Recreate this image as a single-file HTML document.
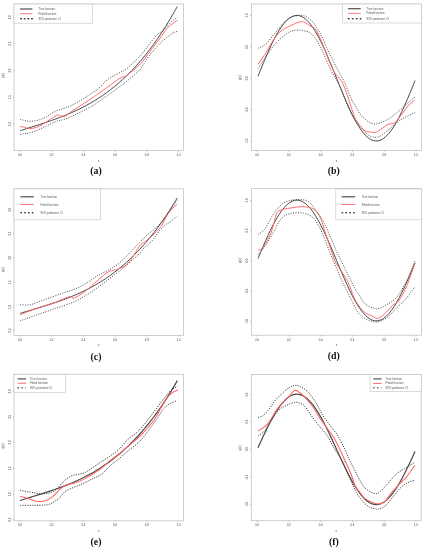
<!DOCTYPE html>
<html><head><meta charset="utf-8"><style>
html,body{margin:0;padding:0;background:#fff;}
svg{display:block;font-family:"Liberation Sans", Arial, sans-serif;}
</style></head><body>
<svg width="425" height="550" viewBox="0 0 425 550">
<rect width="425" height="550" fill="#fff"/>
<g><rect x="14" y="4" width="169.4" height="146.5" fill="none" stroke="#c4c4c4" stroke-width="0.8"/>
<line x1="19.9" y1="150.5" x2="19.9" y2="151.8" stroke="#a0a0a0" stroke-width="0.6"/>
<text x="19.9" y="156" text-anchor="middle" font-size="2.8" fill="#3c3c3c">0.0</text>
<line x1="51.62" y1="150.5" x2="51.62" y2="151.8" stroke="#a0a0a0" stroke-width="0.6"/>
<text x="51.62" y="156" text-anchor="middle" font-size="2.8" fill="#3c3c3c">0.2</text>
<line x1="83.34" y1="150.5" x2="83.34" y2="151.8" stroke="#a0a0a0" stroke-width="0.6"/>
<text x="83.34" y="156" text-anchor="middle" font-size="2.8" fill="#3c3c3c">0.4</text>
<line x1="115.06" y1="150.5" x2="115.06" y2="151.8" stroke="#a0a0a0" stroke-width="0.6"/>
<text x="115.06" y="156" text-anchor="middle" font-size="2.8" fill="#3c3c3c">0.6</text>
<line x1="146.78" y1="150.5" x2="146.78" y2="151.8" stroke="#a0a0a0" stroke-width="0.6"/>
<text x="146.78" y="156" text-anchor="middle" font-size="2.8" fill="#3c3c3c">0.8</text>
<line x1="178.5" y1="150.5" x2="178.5" y2="151.8" stroke="#a0a0a0" stroke-width="0.6"/>
<text x="178.5" y="156" text-anchor="middle" font-size="2.8" fill="#3c3c3c">1.0</text>
<line x1="12.7" y1="124" x2="14" y2="124" stroke="#a0a0a0" stroke-width="0.6"/>
<text transform="translate(10.5 124) rotate(-90)" text-anchor="middle" font-size="2.8" fill="#3c3c3c">1.0</text>
<line x1="12.7" y1="97.2" x2="14" y2="97.2" stroke="#a0a0a0" stroke-width="0.6"/>
<text transform="translate(10.5 97.2) rotate(-90)" text-anchor="middle" font-size="2.8" fill="#3c3c3c">1.5</text>
<line x1="12.7" y1="70.6" x2="14" y2="70.6" stroke="#a0a0a0" stroke-width="0.6"/>
<text transform="translate(10.5 70.6) rotate(-90)" text-anchor="middle" font-size="2.8" fill="#3c3c3c">2.0</text>
<line x1="12.7" y1="43.7" x2="14" y2="43.7" stroke="#a0a0a0" stroke-width="0.6"/>
<text transform="translate(10.5 43.7) rotate(-90)" text-anchor="middle" font-size="2.8" fill="#3c3c3c">2.5</text>
<line x1="12.7" y1="17.4" x2="14" y2="17.4" stroke="#a0a0a0" stroke-width="0.6"/>
<text transform="translate(10.5 17.4) rotate(-90)" text-anchor="middle" font-size="2.8" fill="#3c3c3c">3.0</text>
<text x="98.7" y="161.5" text-anchor="middle" font-size="2.8" fill="#3c3c3c">x</text>
<text transform="translate(3.5 75.5) rotate(-90)" text-anchor="middle" font-size="2.8" fill="#3c3c3c">g(x)</text>
<path d="M20.06 130.76C20.71 130.55 22.68 129.91 23.99 129.49C25.3 129.07 26.61 128.65 27.92 128.23C29.23 127.81 30.54 127.4 31.85 126.98C33.16 126.56 34.47 126.14 35.78 125.72C37.09 125.3 38.4 124.87 39.72 124.45C41.03 124.02 42.34 123.59 43.65 123.15C44.96 122.72 46.27 122.28 47.58 121.83C48.89 121.38 50.2 120.93 51.51 120.47C52.82 120.01 54.13 119.54 55.44 119.06C56.75 118.58 58.06 118.1 59.37 117.6C60.68 117.1 61.99 116.59 63.3 116.07C64.61 115.55 65.92 115.02 67.23 114.47C68.54 113.93 69.86 113.37 71.17 112.8C72.48 112.22 73.79 111.63 75.1 111.03C76.41 110.42 77.72 109.8 79.03 109.16C80.34 108.53 81.65 107.87 82.96 107.19C84.27 106.52 85.58 105.83 86.89 105.11C88.2 104.4 89.51 103.66 90.82 102.91C92.13 102.15 93.44 101.37 94.75 100.57C96.06 99.77 97.37 98.94 98.68 98.09C99.99 97.24 101.31 96.37 102.62 95.47C103.93 94.57 105.24 93.65 106.55 92.69C107.86 91.74 109.17 90.76 110.48 89.75C111.79 88.74 113.1 87.7 114.41 86.64C115.72 85.57 117.03 84.47 118.34 83.34C119.65 82.21 120.96 81.05 122.27 79.85C123.58 78.66 124.89 77.43 126.2 76.17C127.51 74.91 128.82 73.61 130.13 72.28C131.45 70.95 132.76 69.58 134.07 68.18C135.38 66.77 136.69 65.33 138 63.85C139.31 62.37 140.62 60.85 141.93 59.29C143.24 57.73 144.55 56.13 145.86 54.49C147.17 52.85 148.48 51.17 149.79 49.45C151.1 47.72 152.41 45.95 153.72 44.14C155.03 42.33 156.34 40.48 157.65 38.57C158.96 36.67 160.27 34.73 161.59 32.73C162.9 30.74 164.21 28.7 165.52 26.61C166.83 24.52 168.14 22.38 169.45 20.2C170.76 18.01 172.07 15.77 173.38 13.48C174.69 11.2 176.66 7.64 177.31 6.47" fill="none" stroke="#4a4a4a" stroke-width="1"/>
<path d="M20.1 126.6C20.83 126.7 22.93 126.85 24.5 127.2C26.07 127.55 27.58 128.65 29.5 128.7C31.42 128.75 33.88 128.17 36 127.5C38.12 126.83 39.87 126.03 42.2 124.7C44.53 123.37 47.62 121.05 50 119.5C52.38 117.95 54.75 116.05 56.5 115.4C58.25 114.75 59.25 115.42 60.5 115.6C61.75 115.78 61.78 117.43 64 116.5C66.22 115.57 69.65 112.72 73.8 110C77.95 107.28 84.53 103.12 88.9 100.2C93.27 97.28 96.23 95.17 100 92.5C103.77 89.83 108.02 86.68 111.5 84.2C114.98 81.72 118.4 79.05 120.9 77.6C123.4 76.15 123.38 77.63 126.5 75.5C129.62 73.37 136.52 67.68 139.6 64.8C142.68 61.92 142.88 60.93 145 58.2C147.12 55.47 149.87 51.62 152.3 48.4C154.73 45.18 157.18 42.18 159.6 38.9C162.02 35.62 164.73 31.15 166.8 28.7C168.87 26.25 170.23 25.63 172 24.2C173.77 22.77 176.5 20.78 177.4 20.1" fill="none" stroke="#ff6464" stroke-width="0.95"/>
<path d="M20.1 119.2C20.92 119.43 23.27 120.25 25 120.6C26.73 120.95 28.33 121.37 30.5 121.3C32.67 121.23 35.58 120.83 38 120.2C40.42 119.57 42.17 118.95 45 117.5C47.83 116.05 51.83 113.05 55 111.5C58.17 109.95 60.87 109.4 64 108.2C67.13 107 69.02 106.88 73.8 104.3C78.58 101.72 88.33 95.58 92.7 92.7C97.07 89.82 97.5 89.2 100 87C102.5 84.8 104.22 82 107.7 79.5C111.18 77 117.77 73.78 120.9 72C124.03 70.22 123.38 71.38 126.5 68.8C129.62 66.22 136.52 59.65 139.6 56.5C142.68 53.35 143.37 51.98 145 49.9C146.63 47.82 147.95 45.88 149.4 44C150.85 42.12 152.25 40.3 153.7 38.6C155.15 36.9 156.63 35.08 158.1 33.8C159.57 32.52 161.05 32.1 162.5 30.9C163.95 29.7 165.1 28.3 166.8 26.6C168.5 24.9 170.93 22.2 172.7 20.7C174.47 19.2 176.62 18.12 177.4 17.6" fill="none" stroke="#363636" stroke-width="0.9" stroke-dasharray="1.0 1.45"/>
<path d="M20.1 134.4C22.45 133.92 28.38 133.58 34.2 131.5C40.02 129.42 50.03 123.92 55 121.9C59.97 119.88 60.87 120.5 64 119.4C67.13 118.3 69.02 117.57 73.8 115.3C78.58 113.03 88.33 108.27 92.7 105.8C97.07 103.33 96.87 102.68 100 100.5C103.13 98.32 107.08 95.88 111.5 92.7C115.92 89.52 121.82 85.2 126.5 81.4C131.18 77.6 136.15 73.7 139.6 69.9C143.05 66.1 145.08 61.58 147.2 58.6C149.32 55.62 150.23 54.43 152.3 52C154.37 49.57 157.18 46.42 159.6 44C162.02 41.58 164.5 39.38 166.8 37.5C169.1 35.62 171.63 33.7 173.4 32.7C175.17 31.7 176.73 31.7 177.4 31.5" fill="none" stroke="#363636" stroke-width="0.9" stroke-dasharray="1.0 1.45"/>
<rect x="14" y="4" width="78.7" height="19.2" fill="#fff" stroke="#c4c4c4" stroke-width="0.6"/>
<line x1="19.95" y1="9" x2="32.4" y2="9" stroke="#505050" stroke-width="1.2"/>
<line x1="19.95" y1="13.7" x2="32.4" y2="13.7" stroke="#ff7a7a" stroke-width="1.0"/>
<rect x="20.1" y="18" width="1.8" height="1.4" fill="#383838"/>
<rect x="23.75" y="18" width="1.8" height="1.4" fill="#383838"/>
<rect x="27.4" y="18" width="1.8" height="1.4" fill="#383838"/>
<rect x="31.05" y="18" width="1.8" height="1.4" fill="#383838"/>
<text x="38.5" y="10.03" font-size="2.85" fill="#555">True function</text>
<text x="38.5" y="14.73" font-size="2.85" fill="#555">Fitted function</text>
<text x="38.5" y="19.73" font-size="2.85" fill="#555">95% pointwise CI</text>
<text x="96" y="174.4" text-anchor="middle" font-family='"Liberation Serif", "Times New Roman", serif' font-weight="bold" font-size="9.8" fill="#111">(a)</text></g>
<g><rect x="251.5" y="4" width="169.9" height="146.5" fill="none" stroke="#c4c4c4" stroke-width="0.8"/>
<line x1="257.2" y1="150.5" x2="257.2" y2="151.8" stroke="#a0a0a0" stroke-width="0.6"/>
<text x="257.2" y="156" text-anchor="middle" font-size="2.8" fill="#3c3c3c">0.0</text>
<line x1="288.96" y1="150.5" x2="288.96" y2="151.8" stroke="#a0a0a0" stroke-width="0.6"/>
<text x="288.96" y="156" text-anchor="middle" font-size="2.8" fill="#3c3c3c">0.2</text>
<line x1="320.72" y1="150.5" x2="320.72" y2="151.8" stroke="#a0a0a0" stroke-width="0.6"/>
<text x="320.72" y="156" text-anchor="middle" font-size="2.8" fill="#3c3c3c">0.4</text>
<line x1="352.48" y1="150.5" x2="352.48" y2="151.8" stroke="#a0a0a0" stroke-width="0.6"/>
<text x="352.48" y="156" text-anchor="middle" font-size="2.8" fill="#3c3c3c">0.6</text>
<line x1="384.24" y1="150.5" x2="384.24" y2="151.8" stroke="#a0a0a0" stroke-width="0.6"/>
<text x="384.24" y="156" text-anchor="middle" font-size="2.8" fill="#3c3c3c">0.8</text>
<line x1="416" y1="150.5" x2="416" y2="151.8" stroke="#a0a0a0" stroke-width="0.6"/>
<text x="416" y="156" text-anchor="middle" font-size="2.8" fill="#3c3c3c">1.0</text>
<line x1="250.2" y1="141.2" x2="251.5" y2="141.2" stroke="#a0a0a0" stroke-width="0.6"/>
<text transform="translate(248 141.2) rotate(-90)" text-anchor="middle" font-size="2.8" fill="#3c3c3c">-1.0</text>
<line x1="250.2" y1="109.8" x2="251.5" y2="109.8" stroke="#a0a0a0" stroke-width="0.6"/>
<text transform="translate(248 109.8) rotate(-90)" text-anchor="middle" font-size="2.8" fill="#3c3c3c">-0.5</text>
<line x1="250.2" y1="78.3" x2="251.5" y2="78.3" stroke="#a0a0a0" stroke-width="0.6"/>
<text transform="translate(248 78.3) rotate(-90)" text-anchor="middle" font-size="2.8" fill="#3c3c3c">0.0</text>
<line x1="250.2" y1="46.9" x2="251.5" y2="46.9" stroke="#a0a0a0" stroke-width="0.6"/>
<text transform="translate(248 46.9) rotate(-90)" text-anchor="middle" font-size="2.8" fill="#3c3c3c">0.5</text>
<line x1="250.2" y1="15.5" x2="251.5" y2="15.5" stroke="#a0a0a0" stroke-width="0.6"/>
<text transform="translate(248 15.5) rotate(-90)" text-anchor="middle" font-size="2.8" fill="#3c3c3c">1.0</text>
<text x="336.45" y="161.5" text-anchor="middle" font-size="2.8" fill="#3c3c3c">x</text>
<text transform="translate(241 77.7) rotate(-90)" text-anchor="middle" font-size="2.8" fill="#3c3c3c">g(x)</text>
<path d="M257.99 76.23C258.43 75.15 259.74 71.89 260.61 69.75C261.48 67.6 262.36 65.46 263.23 63.36C264.1 61.26 264.97 59.17 265.85 57.13C266.72 55.09 267.59 53.08 268.46 51.13C269.34 49.18 270.21 47.26 271.08 45.42C271.95 43.57 272.83 41.77 273.7 40.05C274.57 38.33 275.44 36.67 276.32 35.1C277.19 33.53 278.06 32.02 278.93 30.61C279.81 29.2 280.68 27.86 281.55 26.63C282.42 25.39 283.3 24.24 284.17 23.2C285.04 22.16 285.91 21.2 286.79 20.36C287.66 19.52 288.53 18.77 289.4 18.14C290.28 17.51 291.15 16.98 292.02 16.57C292.89 16.15 293.77 15.84 294.64 15.65C295.51 15.46 296.38 15.38 297.26 15.41C298.13 15.44 299 15.58 299.87 15.83C300.75 16.09 301.62 16.46 302.49 16.93C303.36 17.41 304.24 17.99 305.11 18.68C305.98 19.38 306.85 20.18 307.73 21.08C308.6 21.97 309.47 22.98 310.35 24.08C311.22 25.18 312.09 26.38 312.96 27.66C313.84 28.95 314.71 30.33 315.58 31.79C316.45 33.24 317.33 34.79 318.2 36.41C319.07 38.02 319.94 39.72 320.82 41.48C321.69 43.23 322.56 45.07 323.43 46.94C324.31 48.82 325.18 50.76 326.05 52.74C326.92 54.72 327.8 56.75 328.67 58.81C329.54 60.87 330.41 62.98 331.29 65.09C332.16 67.21 333.03 69.36 333.9 71.51C334.78 73.66 335.65 75.84 336.52 78C337.39 80.17 338.27 82.34 339.14 84.5C340.01 86.65 340.88 88.8 341.76 90.92C342.63 93.04 343.5 95.15 344.37 97.21C345.25 99.27 346.12 101.31 346.99 103.3C347.86 105.28 348.74 107.23 349.61 109.11C350.48 111 351.35 112.84 352.23 114.6C353.1 116.36 353.97 118.07 354.84 119.7C355.72 121.32 356.59 122.88 357.46 124.35C358.33 125.81 359.21 127.21 360.08 128.5C360.95 129.8 361.82 131.01 362.7 132.12C363.57 133.23 364.44 134.25 365.31 135.16C366.19 136.07 367.06 136.88 367.93 137.59C368.8 138.29 369.68 138.89 370.55 139.38C371.42 139.87 372.29 140.25 373.17 140.52C374.04 140.79 374.91 140.94 375.78 140.99C376.66 141.03 377.53 140.96 378.4 140.78C379.27 140.6 380.15 140.31 381.02 139.91C381.89 139.51 382.76 138.99 383.64 138.37C384.51 137.75 385.38 137.02 386.25 136.19C387.13 135.36 388 134.42 388.87 133.39C389.74 132.36 390.62 131.22 391.49 130C392.36 128.77 393.23 127.45 394.11 126.05C394.98 124.65 395.85 123.15 396.72 121.59C397.6 120.02 398.47 118.37 399.34 116.66C400.21 114.95 401.09 113.16 401.96 111.32C402.83 109.48 403.7 107.57 404.58 105.63C405.45 103.68 406.32 101.67 407.19 99.64C408.07 97.61 408.94 95.52 409.81 93.42C410.68 91.32 411.56 89.18 412.43 87.04C413.3 84.9 414.61 81.65 415.05 80.57" fill="none" stroke="#4a4a4a" stroke-width="1"/>
<path d="M258 64.4C258.83 63.17 261.5 59.23 263 57C264.5 54.77 265.33 53.75 267 51C268.67 48.25 270.67 43.83 273 40.5C275.33 37.17 278 33.5 281 31C284 28.5 287.83 27.03 291 25.5C294.17 23.97 297.67 22.3 300 21.8C302.33 21.3 303.33 21.82 305 22.5C306.67 23.18 308.25 24.8 310 25.9C311.75 27 313.68 26.75 315.5 29.1C317.32 31.45 319.08 35.92 320.9 40C322.72 44.08 324.97 49.97 326.4 53.6C327.83 57.23 328.22 58.77 329.5 61.8C330.78 64.83 332.73 69.37 334.1 71.8C335.47 74.23 336.48 74.88 337.7 76.4C338.92 77.92 340.33 79.23 341.4 80.9C342.47 82.57 343.27 84.43 344.1 86.4C344.93 88.37 345.65 90.58 346.4 92.7C347.15 94.82 347.67 96.3 348.6 99.1C349.53 101.9 350.77 106.02 352 109.5C353.23 112.98 354 116.58 356 120C358 123.42 361.67 128 364 130C366.33 132 368 131.63 370 132C372 132.37 374 132.78 376 132.2C378 131.62 380 129.8 382 128.5C384 127.2 385.83 125.4 388 124.4C390.17 123.4 392.67 124.23 395 122.5C397.33 120.77 399.83 116.75 402 114C404.17 111.25 405.83 108.33 408 106C410.17 103.67 413.83 101 415 100" fill="none" stroke="#ff6464" stroke-width="0.95"/>
<path d="M258 48.4C258.83 48 261.5 46.9 263 46C264.5 45.1 265 45.17 267 43C269 40.83 272.33 36.25 275 33C277.67 29.75 280.67 25.92 283 23.5C285.33 21.08 287 19.75 289 18.5C291 17.25 292.67 16.5 295 16C297.33 15.5 300.35 14.83 303 15.5C305.65 16.17 308.67 18.03 310.9 20C313.13 21.97 314.58 24.57 316.4 27.3C318.22 30.03 319.92 32.62 321.8 36.4C323.68 40.18 325.95 46.22 327.7 50C329.45 53.78 330.78 56.07 332.3 59.1C333.82 62.13 335.28 65.32 336.8 68.2C338.32 71.08 339.88 73.52 341.4 76.4C342.92 79.28 344.23 81.72 345.9 85.5C347.57 89.28 349.72 95.52 351.4 99.1C353.08 102.68 354.23 104.1 356 107C357.77 109.9 359.33 113.75 362 116.5C364.67 119.25 369 122.42 372 123.5C375 124.58 377 123.92 380 123C383 122.08 386.67 120.17 390 118C393.33 115.83 397 112.5 400 110C403 107.5 405.5 105.17 408 103C410.5 100.83 413.83 98 415 97" fill="none" stroke="#363636" stroke-width="0.9" stroke-dasharray="1.0 1.45"/>
<path d="M258 68.5C258.83 67.25 261.5 63.25 263 61C264.5 58.75 265 57.83 267 55C269 52.17 272 47.33 275 44C278 40.67 282.17 37.17 285 35C287.83 32.83 289.67 31.83 292 31C294.33 30.17 296.5 29.92 299 30C301.5 30.08 305.17 31.05 307 31.5C308.83 31.95 308.75 31.73 310 32.7C311.25 33.67 312.98 35.33 314.5 37.3C316.02 39.27 317.58 41.78 319.1 44.5C320.62 47.22 322.02 50.1 323.6 53.6C325.18 57.1 327.15 62.32 328.6 65.5C330.05 68.68 331.08 70.43 332.3 72.7C333.52 74.97 334.78 77.13 335.9 79.1C337.02 81.07 337.72 81.77 339 84.5C340.28 87.23 342.1 91.75 343.6 95.5C345.1 99.25 346.27 103.25 348 107C349.73 110.75 351.67 114.33 354 118C356.33 121.67 359.33 126 362 129C364.67 132 367.33 134.67 370 136C372.67 137.33 375.33 137.67 378 137C380.67 136.33 383.33 134 386 132C388.67 130 391.33 127.17 394 125C396.67 122.83 398.5 121.1 402 119C405.5 116.9 412.83 113.5 415 112.4" fill="none" stroke="#363636" stroke-width="0.9" stroke-dasharray="1.0 1.45"/>
<rect x="342.4" y="4" width="79" height="19" fill="#fff" stroke="#c4c4c4" stroke-width="0.6"/>
<line x1="348.1" y1="8.7" x2="360.7" y2="8.7" stroke="#505050" stroke-width="1.2"/>
<line x1="348.1" y1="13.4" x2="360.7" y2="13.4" stroke="#ff7a7a" stroke-width="1.0"/>
<rect x="347.9" y="18" width="1.7" height="1.4" fill="#383838"/>
<rect x="351.85" y="18" width="1.7" height="1.4" fill="#383838"/>
<rect x="355.8" y="18" width="1.7" height="1.4" fill="#383838"/>
<rect x="359.75" y="18" width="1.7" height="1.4" fill="#383838"/>
<text x="366.6" y="9.74" font-size="2.88" fill="#555">True function</text>
<text x="366.6" y="14.44" font-size="2.88" fill="#555">Fitted function</text>
<text x="366.6" y="19.74" font-size="2.88" fill="#555">95% pointwise CI</text>
<text x="333.8" y="174.2" text-anchor="middle" font-family='"Liberation Serif", "Times New Roman", serif' font-weight="bold" font-size="9.8" fill="#111">(b)</text></g>
<g><rect x="14" y="188.8" width="169.4" height="146.6" fill="none" stroke="#c4c4c4" stroke-width="0.8"/>
<line x1="19.9" y1="335.4" x2="19.9" y2="336.7" stroke="#a0a0a0" stroke-width="0.6"/>
<text x="19.9" y="340.9" text-anchor="middle" font-size="2.8" fill="#3c3c3c">0.0</text>
<line x1="51.62" y1="335.4" x2="51.62" y2="336.7" stroke="#a0a0a0" stroke-width="0.6"/>
<text x="51.62" y="340.9" text-anchor="middle" font-size="2.8" fill="#3c3c3c">0.2</text>
<line x1="83.34" y1="335.4" x2="83.34" y2="336.7" stroke="#a0a0a0" stroke-width="0.6"/>
<text x="83.34" y="340.9" text-anchor="middle" font-size="2.8" fill="#3c3c3c">0.4</text>
<line x1="115.06" y1="335.4" x2="115.06" y2="336.7" stroke="#a0a0a0" stroke-width="0.6"/>
<text x="115.06" y="340.9" text-anchor="middle" font-size="2.8" fill="#3c3c3c">0.6</text>
<line x1="146.78" y1="335.4" x2="146.78" y2="336.7" stroke="#a0a0a0" stroke-width="0.6"/>
<text x="146.78" y="340.9" text-anchor="middle" font-size="2.8" fill="#3c3c3c">0.8</text>
<line x1="178.5" y1="335.4" x2="178.5" y2="336.7" stroke="#a0a0a0" stroke-width="0.6"/>
<text x="178.5" y="340.9" text-anchor="middle" font-size="2.8" fill="#3c3c3c">1.0</text>
<line x1="12.7" y1="330.5" x2="14" y2="330.5" stroke="#a0a0a0" stroke-width="0.6"/>
<text transform="translate(10.5 330.5) rotate(-90)" text-anchor="middle" font-size="2.8" fill="#3c3c3c">0.5</text>
<line x1="12.7" y1="307" x2="14" y2="307" stroke="#a0a0a0" stroke-width="0.6"/>
<text transform="translate(10.5 307) rotate(-90)" text-anchor="middle" font-size="2.8" fill="#3c3c3c">1.0</text>
<line x1="12.7" y1="282.5" x2="14" y2="282.5" stroke="#a0a0a0" stroke-width="0.6"/>
<text transform="translate(10.5 282.5) rotate(-90)" text-anchor="middle" font-size="2.8" fill="#3c3c3c">1.5</text>
<line x1="12.7" y1="257.9" x2="14" y2="257.9" stroke="#a0a0a0" stroke-width="0.6"/>
<text transform="translate(10.5 257.9) rotate(-90)" text-anchor="middle" font-size="2.8" fill="#3c3c3c">2.0</text>
<line x1="12.7" y1="233.6" x2="14" y2="233.6" stroke="#a0a0a0" stroke-width="0.6"/>
<text transform="translate(10.5 233.6) rotate(-90)" text-anchor="middle" font-size="2.8" fill="#3c3c3c">2.5</text>
<line x1="12.7" y1="209.9" x2="14" y2="209.9" stroke="#a0a0a0" stroke-width="0.6"/>
<text transform="translate(10.5 209.9) rotate(-90)" text-anchor="middle" font-size="2.8" fill="#3c3c3c">3.0</text>
<text x="98.7" y="346.4" text-anchor="middle" font-size="2.8" fill="#3c3c3c">x</text>
<text transform="translate(3.5 269.7) rotate(-90)" text-anchor="middle" font-size="2.8" fill="#3c3c3c">g(x)</text>
<path d="M20.06 313.39C20.71 313.2 22.68 312.61 23.99 312.21C25.3 311.82 26.61 311.43 27.92 311.04C29.23 310.65 30.54 310.27 31.85 309.88C33.16 309.49 34.47 309.1 35.78 308.71C37.09 308.32 38.4 307.92 39.72 307.53C41.03 307.13 42.34 306.73 43.65 306.32C44.96 305.92 46.27 305.51 47.58 305.09C48.89 304.68 50.2 304.26 51.51 303.83C52.82 303.4 54.13 302.96 55.44 302.52C56.75 302.07 58.06 301.62 59.37 301.16C60.68 300.69 61.99 300.22 63.3 299.74C64.61 299.25 65.92 298.76 67.23 298.25C68.54 297.74 69.86 297.23 71.17 296.69C72.48 296.16 73.79 295.61 75.1 295.05C76.41 294.49 77.72 293.91 79.03 293.32C80.34 292.72 81.65 292.11 82.96 291.48C84.27 290.86 85.58 290.21 86.89 289.55C88.2 288.88 89.51 288.2 90.82 287.5C92.13 286.79 93.44 286.07 94.75 285.32C96.06 284.58 97.37 283.81 98.68 283.02C99.99 282.23 101.31 281.42 102.62 280.58C103.93 279.75 105.24 278.89 106.55 278C107.86 277.11 109.17 276.2 110.48 275.26C111.79 274.33 113.1 273.36 114.41 272.37C115.72 271.37 117.03 270.35 118.34 269.3C119.65 268.25 120.96 267.17 122.27 266.06C123.58 264.95 124.89 263.81 126.2 262.64C127.51 261.46 128.82 260.26 130.13 259.02C131.45 257.78 132.76 256.51 134.07 255.2C135.38 253.9 136.69 252.56 138 251.18C139.31 249.8 140.62 248.39 141.93 246.94C143.24 245.49 144.55 244.01 145.86 242.48C147.17 240.96 148.48 239.39 149.79 237.79C151.1 236.19 152.41 234.54 153.72 232.86C155.03 231.17 156.34 229.45 157.65 227.68C158.96 225.91 160.27 224.1 161.59 222.25C162.9 220.4 164.21 218.5 165.52 216.56C166.83 214.61 168.14 212.63 169.45 210.59C170.76 208.56 172.07 206.48 173.38 204.35C174.69 202.22 176.66 198.91 177.31 197.83" fill="none" stroke="#4a4a4a" stroke-width="1"/>
<path d="M20.1 314.8C22.45 313.85 28.47 311.13 34.2 309.1C39.93 307.07 48.58 304.68 54.5 302.6C60.42 300.52 66.5 297.33 69.7 296.6C72.9 295.87 71.17 299.05 73.7 298.2C76.23 297.35 80.85 294.52 84.9 291.5C88.95 288.48 94.13 283.35 98 280.1C101.87 276.85 104.73 273.85 108.1 272C111.47 270.15 114.82 270.52 118.2 269C121.58 267.48 124.77 266.82 128.4 262.9C132.03 258.98 137.07 249.15 140 245.5C142.93 241.85 144 242.58 146 241C148 239.42 150 237.83 152 236C154 234.17 156.33 231.83 158 230C159.67 228.17 160.67 227.17 162 225C163.33 222.83 164.67 219.33 166 217C167.33 214.67 168.67 212.67 170 211C171.33 209.33 172.8 208.12 174 207C175.2 205.88 176.67 204.75 177.2 204.3" fill="none" stroke="#ff6464" stroke-width="0.95"/>
<path d="M20.1 304.7C21.78 304.7 26.15 305.55 30.2 304.7C34.25 303.85 38.67 301.63 44.4 299.6C50.13 297.57 58.53 294.7 64.6 292.5C70.67 290.3 75.23 289.23 80.8 286.4C86.37 283.57 91.77 279.25 98 275.5C104.23 271.75 111.2 269.48 118.2 263.9C125.2 258.32 135.37 246.65 140 242C144.63 237.35 144 237.83 146 236C148 234.17 150 232.67 152 231C154 229.33 156 228 158 226C160 224 162.33 221.08 164 219C165.67 216.92 166.67 215.33 168 213.5C169.33 211.67 170.67 209.92 172 208C173.33 206.08 175.13 203.25 176 202C176.87 200.75 177 200.75 177.2 200.5" fill="none" stroke="#363636" stroke-width="0.9" stroke-dasharray="1.0 1.45"/>
<path d="M20.1 320.9C22.45 320.05 28.47 317.83 34.2 315.8C39.93 313.77 47.75 311.07 54.5 308.7C61.25 306.33 68.97 304.13 74.7 301.6C80.43 299.07 85.02 295.9 88.9 293.5C92.78 291.1 93.12 290.78 98 287.2C102.88 283.62 111.45 277.45 118.2 272C124.95 266.55 134.2 258.5 138.5 254.5C142.8 250.5 142.08 249.92 144 248C145.92 246.08 148.17 244.83 150 243C151.83 241.17 153.33 239.17 155 237C156.67 234.83 158.33 232 160 230C161.67 228 163.33 226.33 165 225C166.67 223.67 168.08 223.42 170 222C171.92 220.58 175.42 217.42 176.5 216.5" fill="none" stroke="#363636" stroke-width="0.9" stroke-dasharray="1.0 1.45"/>
<rect x="14" y="188.9" width="86.5" height="30.9" fill="#fff" stroke="#c4c4c4" stroke-width="0.6"/>
<line x1="20.4" y1="196.8" x2="33.8" y2="196.8" stroke="#505050" stroke-width="1.2"/>
<line x1="20.4" y1="204.5" x2="33.8" y2="204.5" stroke="#ff7a7a" stroke-width="1.0"/>
<rect x="20.4" y="212" width="1.6" height="1.4" fill="#383838"/>
<rect x="24.2" y="212" width="1.6" height="1.4" fill="#383838"/>
<rect x="28" y="212" width="1.6" height="1.4" fill="#383838"/>
<rect x="31.8" y="212" width="1.6" height="1.4" fill="#383838"/>
<text x="40.6" y="197.83" font-size="2.85" fill="#555">True function</text>
<text x="40.6" y="205.53" font-size="2.85" fill="#555">Fitted function</text>
<text x="40.6" y="213.73" font-size="2.85" fill="#555">95% pointwise CI</text>
<text x="96" y="359.5" text-anchor="middle" font-family='"Liberation Serif", "Times New Roman", serif' font-weight="bold" font-size="9.8" fill="#111">(c)</text></g>
<g><rect x="251.5" y="188.6" width="169.9" height="146.6" fill="none" stroke="#c4c4c4" stroke-width="0.8"/>
<line x1="257.2" y1="335.2" x2="257.2" y2="336.5" stroke="#a0a0a0" stroke-width="0.6"/>
<text x="257.2" y="340.7" text-anchor="middle" font-size="2.8" fill="#3c3c3c">0.0</text>
<line x1="288.96" y1="335.2" x2="288.96" y2="336.5" stroke="#a0a0a0" stroke-width="0.6"/>
<text x="288.96" y="340.7" text-anchor="middle" font-size="2.8" fill="#3c3c3c">0.2</text>
<line x1="320.72" y1="335.2" x2="320.72" y2="336.5" stroke="#a0a0a0" stroke-width="0.6"/>
<text x="320.72" y="340.7" text-anchor="middle" font-size="2.8" fill="#3c3c3c">0.4</text>
<line x1="352.48" y1="335.2" x2="352.48" y2="336.5" stroke="#a0a0a0" stroke-width="0.6"/>
<text x="352.48" y="340.7" text-anchor="middle" font-size="2.8" fill="#3c3c3c">0.6</text>
<line x1="384.24" y1="335.2" x2="384.24" y2="336.5" stroke="#a0a0a0" stroke-width="0.6"/>
<text x="384.24" y="340.7" text-anchor="middle" font-size="2.8" fill="#3c3c3c">0.8</text>
<line x1="416" y1="335.2" x2="416" y2="336.5" stroke="#a0a0a0" stroke-width="0.6"/>
<text x="416" y="340.7" text-anchor="middle" font-size="2.8" fill="#3c3c3c">1.0</text>
<line x1="250.2" y1="321.4" x2="251.5" y2="321.4" stroke="#a0a0a0" stroke-width="0.6"/>
<text transform="translate(248 321.4) rotate(-90)" text-anchor="middle" font-size="2.8" fill="#3c3c3c">-1.0</text>
<line x1="250.2" y1="291" x2="251.5" y2="291" stroke="#a0a0a0" stroke-width="0.6"/>
<text transform="translate(248 291) rotate(-90)" text-anchor="middle" font-size="2.8" fill="#3c3c3c">-0.5</text>
<line x1="250.2" y1="260.7" x2="251.5" y2="260.7" stroke="#a0a0a0" stroke-width="0.6"/>
<text transform="translate(248 260.7) rotate(-90)" text-anchor="middle" font-size="2.8" fill="#3c3c3c">0.0</text>
<line x1="250.2" y1="230.5" x2="251.5" y2="230.5" stroke="#a0a0a0" stroke-width="0.6"/>
<text transform="translate(248 230.5) rotate(-90)" text-anchor="middle" font-size="2.8" fill="#3c3c3c">0.5</text>
<line x1="250.2" y1="200.5" x2="251.5" y2="200.5" stroke="#a0a0a0" stroke-width="0.6"/>
<text transform="translate(248 200.5) rotate(-90)" text-anchor="middle" font-size="2.8" fill="#3c3c3c">1.0</text>
<text x="336.45" y="346.2" text-anchor="middle" font-size="2.8" fill="#3c3c3c">x</text>
<text transform="translate(241 260.7) rotate(-90)" text-anchor="middle" font-size="2.8" fill="#3c3c3c">g(x)</text>
<path d="M257.99 258.6C258.43 257.56 259.74 254.43 260.61 252.37C261.48 250.31 262.36 248.25 263.23 246.23C264.1 244.21 264.97 242.2 265.85 240.24C266.72 238.28 267.59 236.34 268.46 234.46C269.34 232.58 270.21 230.74 271.08 228.97C271.95 227.19 272.83 225.46 273.7 223.81C274.57 222.16 275.44 220.56 276.32 219.05C277.19 217.53 278.06 216.09 278.93 214.73C279.81 213.37 280.68 212.09 281.55 210.9C282.42 209.71 283.3 208.61 284.17 207.6C285.04 206.6 285.91 205.68 286.79 204.87C287.66 204.06 288.53 203.35 289.4 202.74C290.28 202.13 291.15 201.62 292.02 201.22C292.89 200.82 293.77 200.53 294.64 200.34C295.51 200.16 296.38 200.08 297.26 200.11C298.13 200.14 299 200.27 299.87 200.52C300.75 200.76 301.62 201.12 302.49 201.57C303.36 202.03 304.24 202.59 305.11 203.26C305.98 203.92 306.85 204.69 307.73 205.56C308.6 206.42 309.47 207.39 310.35 208.45C311.22 209.5 312.09 210.66 312.96 211.89C313.84 213.13 314.71 214.46 315.58 215.86C316.45 217.26 317.33 218.75 318.2 220.31C319.07 221.86 319.94 223.49 320.82 225.18C321.69 226.87 322.56 228.63 323.43 230.44C324.31 232.24 325.18 234.11 326.05 236.01C326.92 237.92 327.8 239.87 328.67 241.85C329.54 243.83 330.41 245.86 331.29 247.89C332.16 249.93 333.03 252 333.9 254.07C334.78 256.14 335.65 258.23 336.52 260.31C337.39 262.39 338.27 264.48 339.14 266.56C340.01 268.63 340.88 270.7 341.76 272.74C342.63 274.77 343.5 276.8 344.37 278.79C345.25 280.77 346.12 282.73 346.99 284.64C347.86 286.55 348.74 288.42 349.61 290.23C350.48 292.04 351.35 293.81 352.23 295.51C353.1 297.21 353.97 298.85 354.84 300.41C355.72 301.97 356.59 303.47 357.46 304.88C358.33 306.29 359.21 307.63 360.08 308.88C360.95 310.13 361.82 311.29 362.7 312.36C363.57 313.43 364.44 314.41 365.31 315.28C366.19 316.16 367.06 316.94 367.93 317.62C368.8 318.3 369.68 318.87 370.55 319.34C371.42 319.81 372.29 320.18 373.17 320.44C374.04 320.69 374.91 320.84 375.78 320.89C376.66 320.93 377.53 320.86 378.4 320.69C379.27 320.52 380.15 320.24 381.02 319.85C381.89 319.46 382.76 318.97 383.64 318.37C384.51 317.78 385.38 317.07 386.25 316.28C387.13 315.48 388 314.57 388.87 313.58C389.74 312.59 390.62 311.49 391.49 310.32C392.36 309.14 393.23 307.87 394.11 306.52C394.98 305.17 395.85 303.73 396.72 302.23C397.6 300.72 398.47 299.14 399.34 297.49C400.21 295.84 401.09 294.12 401.96 292.36C402.83 290.59 403.7 288.75 404.58 286.88C405.45 285.01 406.32 283.08 407.19 281.12C408.07 279.16 408.94 277.16 409.81 275.14C410.68 273.12 411.56 271.06 412.43 269C413.3 266.94 414.61 263.81 415.05 262.78" fill="none" stroke="#4a4a4a" stroke-width="1"/>
<path d="M258.1 250.3C258.93 249.87 261.62 249.25 263.1 247.7C264.58 246.15 265.65 243.53 267 241C268.35 238.47 269.95 235.83 271.2 232.5C272.45 229.17 273.48 224.37 274.5 221C275.52 217.63 275.82 214.25 277.3 212.3C278.78 210.35 280.95 210.05 283.4 209.3C285.85 208.55 288.97 208.25 292 207.8C295.03 207.35 298.32 206.53 301.6 206.6C304.88 206.67 309 207.08 311.7 208.2C314.4 209.32 316.08 211 317.8 213.3C319.52 215.6 320.65 218.45 322 222C323.35 225.55 324.23 229.47 325.9 234.6C327.57 239.73 330.32 248.03 332 252.8C333.68 257.57 334.42 260.1 336 263.2C337.58 266.3 339.68 268.58 341.5 271.4C343.32 274.22 345.45 277.38 346.9 280.1C348.35 282.82 348.93 284.62 350.2 287.7C351.47 290.78 352.87 295.33 354.5 298.6C356.13 301.87 358.18 304.93 360 307.3C361.82 309.67 363.33 311.3 365.4 312.8C367.47 314.3 370.22 315.38 372.4 316.3C374.58 317.22 376.13 319.05 378.5 318.3C380.87 317.55 384.23 313.97 386.6 311.8C388.97 309.63 390.67 307.15 392.7 305.3C394.73 303.45 396.43 304 398.8 300.7C401.17 297.4 404.22 291.75 406.9 285.5C409.58 279.25 413.57 266.92 414.9 263.2" fill="none" stroke="#ff6464" stroke-width="0.95"/>
<path d="M258.1 234.6C259.28 233.58 262.67 231.88 265.2 228.5C267.73 225.12 270.27 218.52 273.3 214.3C276.33 210.08 279.7 205.63 283.4 203.2C287.1 200.77 291.45 200.03 295.5 199.7C299.55 199.37 304.32 199.43 307.7 201.2C311.08 202.97 313.1 206.77 315.8 210.3C318.5 213.83 321.2 217.35 323.9 222.4C326.6 227.45 329.82 235.58 332 240.6C334.18 245.62 335.07 248.28 337 252.5C338.93 256.72 341.58 261.85 343.6 265.9C345.62 269.95 347.28 273.17 349.1 276.8C350.92 280.43 352.68 284.43 354.5 287.7C356.32 290.97 358.18 293.67 360 296.4C361.82 299.13 362.65 302.03 365.4 304.1C368.15 306.17 372.97 308.7 376.5 308.8C380.03 308.9 383.23 306.63 386.6 304.7C389.97 302.77 393.32 301.25 396.7 297.2C400.08 293.15 403.87 286.4 406.9 280.4C409.93 274.4 413.57 264.4 414.9 261.2" fill="none" stroke="#363636" stroke-width="0.9" stroke-dasharray="1.0 1.45"/>
<path d="M258.1 254.8C259.28 253.28 262.67 249.42 265.2 245.7C267.73 241.98 270.6 237.05 273.3 232.5C276 227.95 278.37 221.6 281.4 218.4C284.43 215.2 287.8 214.15 291.5 213.3C295.2 212.45 299.88 212.45 303.6 213.3C307.32 214.15 310.75 215.2 313.8 218.4C316.85 221.6 319.2 226.77 321.9 232.5C324.6 238.23 327.48 246.67 330 252.8C332.52 258.93 335.08 264.75 337 269.3C338.92 273.85 339.85 276.48 341.5 280.1C343.15 283.72 345.08 287.37 346.9 291C348.72 294.63 350.77 298.65 352.4 301.9C354.03 305.15 355.1 308.07 356.7 310.5C358.3 312.93 360.12 314.92 362 316.5C363.88 318.08 365.58 319.08 368 320C370.42 320.92 373.4 322.35 376.5 322C379.6 321.65 383.23 320.27 386.6 317.9C389.97 315.53 393.32 311.18 396.7 307.8C400.08 304.42 403.87 301.15 406.9 297.6C409.93 294.05 413.57 288.35 414.9 286.5" fill="none" stroke="#363636" stroke-width="0.9" stroke-dasharray="1.0 1.45"/>
<rect x="335.8" y="189" width="85.6" height="30.8" fill="#fff" stroke="#c4c4c4" stroke-width="0.6"/>
<line x1="341.6" y1="196.8" x2="355.1" y2="196.8" stroke="#505050" stroke-width="1.2"/>
<line x1="341.6" y1="204.5" x2="355.1" y2="204.5" stroke="#ff7a7a" stroke-width="1.0"/>
<rect x="341.6" y="212" width="1.6" height="1.4" fill="#383838"/>
<rect x="345.45" y="212" width="1.6" height="1.4" fill="#383838"/>
<rect x="349.3" y="212" width="1.6" height="1.4" fill="#383838"/>
<rect x="353.15" y="212" width="1.6" height="1.4" fill="#383838"/>
<text x="361.7" y="197.83" font-size="2.85" fill="#555">True function</text>
<text x="361.7" y="205.53" font-size="2.85" fill="#555">Fitted function</text>
<text x="361.7" y="213.73" font-size="2.85" fill="#555">95% pointwise CI</text>
<text x="333.8" y="359.4" text-anchor="middle" font-family='"Liberation Serif", "Times New Roman", serif' font-weight="bold" font-size="9.8" fill="#111">(d)</text></g>
<g><rect x="14" y="374.2" width="169.4" height="146.6" fill="none" stroke="#c4c4c4" stroke-width="0.8"/>
<line x1="19.9" y1="520.8" x2="19.9" y2="522.1" stroke="#a0a0a0" stroke-width="0.6"/>
<text x="19.9" y="526.3" text-anchor="middle" font-size="2.8" fill="#3c3c3c">0.0</text>
<line x1="51.62" y1="520.8" x2="51.62" y2="522.1" stroke="#a0a0a0" stroke-width="0.6"/>
<text x="51.62" y="526.3" text-anchor="middle" font-size="2.8" fill="#3c3c3c">0.2</text>
<line x1="83.34" y1="520.8" x2="83.34" y2="522.1" stroke="#a0a0a0" stroke-width="0.6"/>
<text x="83.34" y="526.3" text-anchor="middle" font-size="2.8" fill="#3c3c3c">0.4</text>
<line x1="115.06" y1="520.8" x2="115.06" y2="522.1" stroke="#a0a0a0" stroke-width="0.6"/>
<text x="115.06" y="526.3" text-anchor="middle" font-size="2.8" fill="#3c3c3c">0.6</text>
<line x1="146.78" y1="520.8" x2="146.78" y2="522.1" stroke="#a0a0a0" stroke-width="0.6"/>
<text x="146.78" y="526.3" text-anchor="middle" font-size="2.8" fill="#3c3c3c">0.8</text>
<line x1="178.5" y1="520.8" x2="178.5" y2="522.1" stroke="#a0a0a0" stroke-width="0.6"/>
<text x="178.5" y="526.3" text-anchor="middle" font-size="2.8" fill="#3c3c3c">1.0</text>
<line x1="12.7" y1="519.7" x2="14" y2="519.7" stroke="#a0a0a0" stroke-width="0.6"/>
<text transform="translate(10.5 519.7) rotate(-90)" text-anchor="middle" font-size="2.8" fill="#3c3c3c">0.5</text>
<line x1="12.7" y1="494.3" x2="14" y2="494.3" stroke="#a0a0a0" stroke-width="0.6"/>
<text transform="translate(10.5 494.3) rotate(-90)" text-anchor="middle" font-size="2.8" fill="#3c3c3c">1.0</text>
<line x1="12.7" y1="468.3" x2="14" y2="468.3" stroke="#a0a0a0" stroke-width="0.6"/>
<text transform="translate(10.5 468.3) rotate(-90)" text-anchor="middle" font-size="2.8" fill="#3c3c3c">1.5</text>
<line x1="12.7" y1="442.5" x2="14" y2="442.5" stroke="#a0a0a0" stroke-width="0.6"/>
<text transform="translate(10.5 442.5) rotate(-90)" text-anchor="middle" font-size="2.8" fill="#3c3c3c">2.0</text>
<line x1="12.7" y1="416.8" x2="14" y2="416.8" stroke="#a0a0a0" stroke-width="0.6"/>
<text transform="translate(10.5 416.8) rotate(-90)" text-anchor="middle" font-size="2.8" fill="#3c3c3c">2.5</text>
<line x1="12.7" y1="391.2" x2="14" y2="391.2" stroke="#a0a0a0" stroke-width="0.6"/>
<text transform="translate(10.5 391.2) rotate(-90)" text-anchor="middle" font-size="2.8" fill="#3c3c3c">3.0</text>
<text x="98.7" y="531.8" text-anchor="middle" font-size="2.8" fill="#3c3c3c">x</text>
<text transform="translate(3.5 446) rotate(-90)" text-anchor="middle" font-size="2.8" fill="#3c3c3c">g(x)</text>
<path d="M20.06 500.52C20.71 500.32 22.68 499.71 23.99 499.3C25.3 498.89 26.61 498.49 27.92 498.09C29.23 497.68 30.54 497.28 31.85 496.88C33.16 496.47 34.47 496.07 35.78 495.66C37.09 495.26 38.4 494.85 39.72 494.44C41.03 494.02 42.34 493.61 43.65 493.19C44.96 492.77 46.27 492.34 47.58 491.91C48.89 491.48 50.2 491.05 51.51 490.6C52.82 490.16 54.13 489.7 55.44 489.24C56.75 488.78 58.06 488.31 59.37 487.83C60.68 487.35 61.99 486.86 63.3 486.36C64.61 485.86 65.92 485.35 67.23 484.82C68.54 484.29 69.86 483.75 71.17 483.2C72.48 482.65 73.79 482.08 75.1 481.5C76.41 480.91 77.72 480.31 79.03 479.7C80.34 479.08 81.65 478.45 82.96 477.8C84.27 477.15 85.58 476.48 86.89 475.79C88.2 475.1 89.51 474.39 90.82 473.66C92.13 472.93 93.44 472.18 94.75 471.41C96.06 470.64 97.37 469.84 98.68 469.02C99.99 468.2 101.31 467.36 102.62 466.49C103.93 465.62 105.24 464.73 106.55 463.81C107.86 462.89 109.17 461.95 110.48 460.98C111.79 460 113.1 459 114.41 457.97C115.72 456.94 117.03 455.88 118.34 454.79C119.65 453.7 120.96 452.58 122.27 451.43C123.58 450.28 124.89 449.1 126.2 447.88C127.51 446.66 128.82 445.41 130.13 444.13C131.45 442.84 132.76 441.52 134.07 440.17C135.38 438.81 136.69 437.42 138 436C139.31 434.57 140.62 433.1 141.93 431.6C143.24 430.1 144.55 428.55 145.86 426.97C147.17 425.39 148.48 423.77 149.79 422.11C151.1 420.44 152.41 418.74 153.72 416.99C155.03 415.24 156.34 413.45 157.65 411.62C158.96 409.79 160.27 407.91 161.59 405.99C162.9 404.06 164.21 402.1 165.52 400.08C166.83 398.07 168.14 396.01 169.45 393.9C170.76 391.79 172.07 389.63 173.38 387.42C174.69 385.22 176.66 381.78 177.31 380.66" fill="none" stroke="#4a4a4a" stroke-width="1.2"/>
<path d="M20.1 496.4C21.45 496.73 25.5 497.58 28.2 498.4C30.9 499.22 33.6 500.88 36.3 501.3C39 501.72 41.7 501.65 44.4 500.9C47.1 500.15 49.8 498.83 52.5 496.8C55.2 494.77 58.25 490.72 60.6 488.7C62.95 486.68 64.25 485.65 66.6 484.7C68.95 483.75 71.65 484.02 74.7 483C77.75 481.98 80.68 480.9 84.9 478.6C89.12 476.3 95.92 472.1 100 469.2C104.08 466.3 106.27 463.7 109.4 461.2C112.53 458.7 115.67 456.7 118.8 454.2C121.93 451.7 124.67 449.23 128.2 446.2C131.73 443.17 136.87 438.95 140 436C143.13 433.05 144.65 431.17 147 428.5C149.35 425.83 151.73 423.48 154.1 420C156.47 416.52 158.85 411.52 161.2 407.6C163.55 403.68 166.25 399.03 168.2 396.5C170.15 393.97 171.33 393.48 172.9 392.4C174.47 391.32 176.82 390.4 177.6 390" fill="none" stroke="#ff6464" stroke-width="1.05"/>
<path d="M20.1 490.3C22.45 490.72 30.15 492.22 34.2 492.8C38.25 493.38 41.02 494.15 44.4 493.8C47.78 493.45 51.13 492.9 54.5 490.7C57.87 488.5 61.57 483.13 64.6 480.6C67.63 478.07 69.32 476.85 72.7 475.5C76.08 474.15 80.35 474.65 84.9 472.5C89.45 470.35 95.92 465.27 100 462.6C104.08 459.93 106.27 458.68 109.4 456.5C112.53 454.32 115.67 452.4 118.8 449.5C121.93 446.6 124.92 442.18 128.2 439.1C131.48 436.02 135.17 434.28 138.5 431C141.83 427.72 145.4 422.9 148.2 419.4C151 415.9 152.93 413.13 155.3 410C157.67 406.87 160.05 403.63 162.4 400.6C164.75 397.57 167.45 393.87 169.4 391.8C171.35 389.73 172.73 389.08 174.1 388.2C175.47 387.32 177.02 386.78 177.6 386.5" fill="none" stroke="#363636" stroke-width="1" stroke-dasharray="1.1 1.3"/>
<path d="M20.1 505.3C22.45 505.3 30.15 505.35 34.2 505.3C38.25 505.25 41.77 505.22 44.4 505C47.03 504.78 48.32 504.58 50 504C51.68 503.42 53.17 502.28 54.5 501.5C55.83 500.72 56.75 500.38 58 499.3C59.25 498.22 60.57 496.47 62 495C63.43 493.53 63.47 492.25 66.6 490.5C69.73 488.75 76.57 486.42 80.8 484.5C85.03 482.58 88.48 480.75 92 479C95.52 477.25 99 476.1 101.9 474C104.8 471.9 106.58 468.92 109.4 466.4C112.22 463.88 115.67 461.48 118.8 458.9C121.93 456.32 124.67 453.88 128.2 450.9C131.73 447.92 136.7 444.32 140 441C143.3 437.68 145.25 434.6 148 431C150.75 427.4 153.92 423.1 156.5 419.4C159.08 415.7 161.35 411.35 163.5 408.8C165.65 406.25 167.23 405.43 169.4 404.1C171.57 402.77 175.32 401.35 176.5 400.8" fill="none" stroke="#363636" stroke-width="1" stroke-dasharray="1.1 1.3"/>
<rect x="14" y="374.4" width="51.3" height="18" fill="#fff" stroke="#c4c4c4" stroke-width="0.6"/>
<line x1="17.7" y1="378.9" x2="26" y2="378.9" stroke="#505050" stroke-width="1.2"/>
<line x1="17.7" y1="383.2" x2="26" y2="383.2" stroke="#ff3c3c" stroke-width="0.8"/>
<rect x="17.6" y="387.2" width="1.4" height="1.2" fill="#383838"/>
<rect x="21.4" y="387.2" width="1.4" height="1.2" fill="#383838"/>
<rect x="25.2" y="387.2" width="0.6" height="1.2" fill="#383838"/>
<text x="29.9" y="379.94" font-size="2.9" fill="#555">True function</text>
<text x="29.9" y="384.24" font-size="2.9" fill="#555">Fitted function</text>
<text x="29.9" y="388.84" font-size="2.9" fill="#555">95% pointwise CI</text>
<text x="96" y="544.8" text-anchor="middle" font-family='"Liberation Serif", "Times New Roman", serif' font-weight="bold" font-size="9.8" fill="#111">(e)</text></g>
<g><rect x="251.3" y="374.4" width="169.9" height="146.3" fill="none" stroke="#c4c4c4" stroke-width="0.8"/>
<line x1="257.2" y1="520.7" x2="257.2" y2="522" stroke="#a0a0a0" stroke-width="0.6"/>
<text x="257.2" y="526.2" text-anchor="middle" font-size="2.8" fill="#3c3c3c">0.0</text>
<line x1="288.96" y1="520.7" x2="288.96" y2="522" stroke="#a0a0a0" stroke-width="0.6"/>
<text x="288.96" y="526.2" text-anchor="middle" font-size="2.8" fill="#3c3c3c">0.2</text>
<line x1="320.72" y1="520.7" x2="320.72" y2="522" stroke="#a0a0a0" stroke-width="0.6"/>
<text x="320.72" y="526.2" text-anchor="middle" font-size="2.8" fill="#3c3c3c">0.4</text>
<line x1="352.48" y1="520.7" x2="352.48" y2="522" stroke="#a0a0a0" stroke-width="0.6"/>
<text x="352.48" y="526.2" text-anchor="middle" font-size="2.8" fill="#3c3c3c">0.6</text>
<line x1="384.24" y1="520.7" x2="384.24" y2="522" stroke="#a0a0a0" stroke-width="0.6"/>
<text x="384.24" y="526.2" text-anchor="middle" font-size="2.8" fill="#3c3c3c">0.8</text>
<line x1="416" y1="520.7" x2="416" y2="522" stroke="#a0a0a0" stroke-width="0.6"/>
<text x="416" y="526.2" text-anchor="middle" font-size="2.8" fill="#3c3c3c">1.0</text>
<line x1="250" y1="504.3" x2="251.3" y2="504.3" stroke="#a0a0a0" stroke-width="0.6"/>
<text transform="translate(247.8 504.3) rotate(-90)" text-anchor="middle" font-size="2.8" fill="#3c3c3c">-1.0</text>
<line x1="250" y1="477" x2="251.3" y2="477" stroke="#a0a0a0" stroke-width="0.6"/>
<text transform="translate(247.8 477) rotate(-90)" text-anchor="middle" font-size="2.8" fill="#3c3c3c">-0.5</text>
<line x1="250" y1="449.1" x2="251.3" y2="449.1" stroke="#a0a0a0" stroke-width="0.6"/>
<text transform="translate(247.8 449.1) rotate(-90)" text-anchor="middle" font-size="2.8" fill="#3c3c3c">0.0</text>
<line x1="250" y1="421.7" x2="251.3" y2="421.7" stroke="#a0a0a0" stroke-width="0.6"/>
<text transform="translate(247.8 421.7) rotate(-90)" text-anchor="middle" font-size="2.8" fill="#3c3c3c">0.5</text>
<line x1="250" y1="394.7" x2="251.3" y2="394.7" stroke="#a0a0a0" stroke-width="0.6"/>
<text transform="translate(247.8 394.7) rotate(-90)" text-anchor="middle" font-size="2.8" fill="#3c3c3c">1.0</text>
<text x="336.25" y="531.7" text-anchor="middle" font-size="2.8" fill="#3c3c3c">x</text>
<text transform="translate(240.8 448) rotate(-90)" text-anchor="middle" font-size="2.8" fill="#3c3c3c">g(x)</text>
<path d="M257.99 447.67C258.43 446.72 259.74 443.86 260.61 441.97C261.48 440.09 262.36 438.2 263.23 436.36C264.1 434.51 264.97 432.67 265.85 430.88C266.72 429.09 267.59 427.32 268.46 425.6C269.34 423.89 270.21 422.21 271.08 420.58C271.95 418.96 272.83 417.38 273.7 415.87C274.57 414.36 275.44 412.9 276.32 411.52C277.19 410.13 278.06 408.81 278.93 407.57C279.81 406.33 280.68 405.15 281.55 404.07C282.42 402.98 283.3 401.97 284.17 401.06C285.04 400.14 285.91 399.3 286.79 398.56C287.66 397.82 288.53 397.17 289.4 396.61C290.28 396.05 291.15 395.59 292.02 395.22C292.89 394.86 293.77 394.59 294.64 394.42C295.51 394.25 296.38 394.18 297.26 394.21C298.13 394.23 299 394.36 299.87 394.58C300.75 394.81 301.62 395.13 302.49 395.55C303.36 395.96 304.24 396.48 305.11 397.09C305.98 397.69 306.85 398.4 307.73 399.19C308.6 399.98 309.47 400.86 310.35 401.83C311.22 402.79 312.09 403.85 312.96 404.98C313.84 406.11 314.71 407.32 315.58 408.6C316.45 409.88 317.33 411.25 318.2 412.67C319.07 414.09 319.94 415.58 320.82 417.12C321.69 418.67 322.56 420.28 323.43 421.93C324.31 423.58 325.18 425.28 326.05 427.02C326.92 428.76 327.8 430.55 328.67 432.36C329.54 434.17 330.41 436.02 331.29 437.88C332.16 439.74 333.03 441.63 333.9 443.52C334.78 445.41 335.65 447.32 336.52 449.23C337.39 451.13 338.27 453.04 339.14 454.93C340.01 456.83 340.88 458.72 341.76 460.58C342.63 462.45 343.5 464.3 344.37 466.11C345.25 467.92 346.12 469.72 346.99 471.46C347.86 473.2 348.74 474.92 349.61 476.57C350.48 478.23 351.35 479.85 352.23 481.4C353.1 482.95 353.97 484.45 354.84 485.87C355.72 487.3 356.59 488.67 357.46 489.96C358.33 491.25 359.21 492.48 360.08 493.62C360.95 494.75 361.82 495.82 362.7 496.79C363.57 497.77 364.44 498.67 365.31 499.47C366.19 500.27 367.06 500.98 367.93 501.6C368.8 502.22 369.68 502.75 370.55 503.18C371.42 503.61 372.29 503.94 373.17 504.18C374.04 504.41 374.91 504.55 375.78 504.59C376.66 504.63 377.53 504.57 378.4 504.41C379.27 504.25 380.15 503.99 381.02 503.64C381.89 503.29 382.76 502.84 383.64 502.29C384.51 501.75 385.38 501.1 386.25 500.37C387.13 499.64 388 498.82 388.87 497.91C389.74 497 390.62 496 391.49 494.93C392.36 493.85 393.23 492.69 394.11 491.46C394.98 490.22 395.85 488.91 396.72 487.54C397.6 486.16 398.47 484.71 399.34 483.21C400.21 481.7 401.09 480.13 401.96 478.51C402.83 476.9 403.7 475.22 404.58 473.51C405.45 471.8 406.32 470.03 407.19 468.25C408.07 466.46 408.94 464.63 409.81 462.78C410.68 460.93 411.56 459.06 412.43 457.17C413.3 455.29 414.61 452.43 415.05 451.48" fill="none" stroke="#4a4a4a" stroke-width="1.2"/>
<path d="M258.2 431C259.8 429.8 264.5 427.67 267.8 423.8C271.1 419.93 274.62 412.17 278 407.8C281.38 403.43 285.35 400.47 288.1 397.6C290.85 394.73 292.63 391.48 294.5 390.6C296.37 389.72 297.55 391.18 299.3 392.3C301.05 393.42 302.83 395.02 305 397.3C307.17 399.58 309.87 402.6 312.3 406C314.73 409.4 317.18 414.07 319.6 417.7C322.02 421.33 324.38 424.42 326.8 427.8C329.22 431.18 331.67 433.87 334.1 438C336.53 442.13 339.5 448.6 341.4 452.6C343.3 456.6 344.18 459.1 345.5 462C346.82 464.9 348.23 467.58 349.3 470C350.37 472.42 351.03 474.1 351.9 476.5C352.77 478.9 353.73 482.43 354.5 484.4C355.27 486.37 355.62 487 356.5 488.3C357.38 489.6 358.6 490.67 359.8 492.2C361 493.73 362.4 496.18 363.7 497.5C365 498.82 366.3 499.35 367.6 500.1C368.9 500.85 369.67 501.35 371.5 502C373.33 502.65 376.45 504 378.6 504C380.75 504 382.47 503.62 384.4 502C386.33 500.38 387.95 497.03 390.2 494.3C392.45 491.57 395.33 488.33 397.9 485.6C400.47 482.87 402.77 481.27 405.6 477.9C408.43 474.53 413.35 467.48 414.9 465.4" fill="none" stroke="#ff6464" stroke-width="1.05"/>
<path d="M258.1 417.5C258.8 417.27 260.65 417.27 262.3 416.1C263.95 414.93 265.88 413.08 268 410.5C270.12 407.92 272.65 403.43 275 400.6C277.35 397.77 279.98 395.5 282.1 393.5C284.22 391.5 285.58 389.97 287.7 388.6C289.82 387.23 292.68 385.6 294.8 385.3C296.92 385 298.28 385.78 300.4 386.8C302.52 387.82 305.03 388.93 307.5 391.4C309.97 393.87 312.7 397.72 315.2 401.6C317.7 405.48 320.08 410.82 322.5 414.7C324.92 418.58 327.28 421.6 329.7 424.9C332.12 428.2 334.57 430.62 337 434.5C339.43 438.38 342.3 444.12 344.3 448.2C346.3 452.28 347.4 455.62 349 459C350.6 462.38 352.43 465.58 353.9 468.5C355.37 471.42 356.6 474.17 357.8 476.5C359 478.83 359.9 480.58 361.1 482.5C362.3 484.42 363.27 486.33 365 488C366.73 489.67 369.55 491.57 371.5 492.5C373.45 493.43 375.28 493.72 376.7 493.6C378.12 493.48 378.37 493.23 380 491.8C381.63 490.37 384.23 487.5 386.5 485C388.77 482.5 391.52 478.97 393.6 476.8C395.68 474.63 397.17 473.37 399 472C400.83 470.63 401.95 470.22 404.6 468.6C407.25 466.98 413.18 463.35 414.9 462.3" fill="none" stroke="#363636" stroke-width="1" stroke-dasharray="1.1 1.3"/>
<path d="M258.1 435.9C259.27 434.97 262.75 433.12 265.1 430.3C267.45 427.48 269.85 422.42 272.2 419C274.55 415.58 276.85 412.05 279.2 409.8C281.55 407.55 283.7 406.75 286.3 405.5C288.9 404.25 292.45 402.65 294.8 402.3C297.15 401.95 298.7 402.7 300.4 403.4C302.1 404.1 303.02 404.23 305 406.5C306.98 408.77 309.87 413.68 312.3 417C314.73 420.32 317.18 423.38 319.6 426.4C322.02 429.42 324.38 431.47 326.8 435.1C329.22 438.73 331.67 444.07 334.1 448.2C336.53 452.33 339.13 455.6 341.4 459.9C343.67 464.2 345.62 469.43 347.7 474C349.78 478.57 352.43 484.15 353.9 487.3C355.37 490.45 355.4 491.03 356.5 492.9C357.6 494.77 359.3 496.9 360.5 498.5C361.7 500.1 362.57 501.33 363.7 502.5C364.83 503.67 366.08 504.62 367.3 505.5C368.52 506.38 369.12 507.22 371 507.8C372.88 508.38 376.05 509.48 378.6 509C381.15 508.52 383.72 507.18 386.3 504.9C388.88 502.62 391.52 498.35 394.1 495.3C396.68 492.25 399.23 488.85 401.8 486.6C404.37 484.35 407.32 482.82 409.5 481.8C411.68 480.78 414 480.72 414.9 480.5" fill="none" stroke="#363636" stroke-width="1" stroke-dasharray="1.1 1.3"/>
<rect x="370.1" y="374.6" width="51.1" height="16.8" fill="#fff" stroke="#c4c4c4" stroke-width="0.6"/>
<line x1="373.3" y1="378.9" x2="381.6" y2="378.9" stroke="#505050" stroke-width="1.2"/>
<line x1="373.3" y1="383.4" x2="381.6" y2="383.4" stroke="#ff3c3c" stroke-width="0.8"/>
<rect x="373.2" y="387.2" width="1.4" height="1.2" fill="#383838"/>
<rect x="377" y="387.2" width="1.4" height="1.2" fill="#383838"/>
<rect x="380.8" y="387.2" width="0.6" height="1.2" fill="#383838"/>
<text x="385.5" y="379.94" font-size="2.88" fill="#555">True function</text>
<text x="385.5" y="384.44" font-size="2.88" fill="#555">Fitted function</text>
<text x="385.5" y="388.84" font-size="2.88" fill="#555">95% pointwise CI</text>
<text x="333.8" y="544.8" text-anchor="middle" font-family='"Liberation Serif", "Times New Roman", serif' font-weight="bold" font-size="9.8" fill="#111">(f)</text></g>
</svg>
</body></html>
